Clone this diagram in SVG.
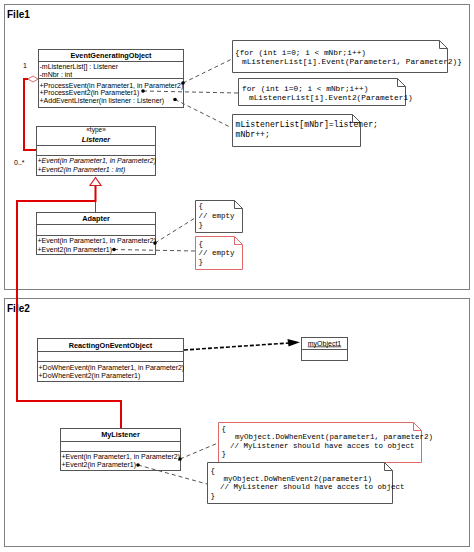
<svg xmlns="http://www.w3.org/2000/svg" width="474" height="552" viewBox="0 0 474 552">
<style>
.frame{fill:#fff;stroke:#808080;stroke-width:1}
.box{fill:#fff;stroke:#555;stroke-width:1}
.sep{stroke:#555;stroke-width:1;fill:none}
.note{fill:#fff;stroke:#555;stroke-width:1}
.rnote{fill:#fff;stroke:#e06a6a;stroke-width:1}
.t{font-family:"Liberation Sans",Arial,sans-serif;font-size:7px;fill:#000}
.i{font-style:italic}
.b{font-weight:bold;font-size:7.3px}
.c{text-anchor:middle}
.lbl{font-family:"Liberation Sans",Arial,sans-serif;font-size:10px;font-weight:bold;fill:#000}
.m{font-family:"Liberation Mono","Courier New",monospace;font-size:7.8px;fill:#000}
.m2{font-family:"Liberation Mono","Courier New",monospace;font-size:7.5px;fill:#000}
.dash{stroke:#555;stroke-width:1;stroke-dasharray:4,3;fill:none}
.red{stroke:#e00000;stroke-width:2;fill:none}
.dot{fill:#000}
</style>

<g id="frame-file1">
<rect class="frame" x="4.5" y="4.5" width="465" height="285"/>
<text class="lbl" x="7" y="18">File1</text>
</g>
<g id="frame-file2">
<rect class="frame" x="4.5" y="298.5" width="465" height="248"/>
<text class="lbl" x="7" y="311.5">File2</text>
</g>

<g id="EventGeneratingObject">
<rect class="box" x="38.5" y="49.5" width="145" height="58"/>
<line class="sep" x1="38.5" y1="61.5" x2="183.5" y2="61.5"/>
<line class="sep" x1="38.5" y1="78.5" x2="183.5" y2="78.5"/>
<text class="t b c" x="111" y="58">EventGeneratingObject</text>
<text class="t" x="39.5" y="68.5">-mListenerList[] : Listener</text>
<text class="t" x="39.5" y="76.5">-mNbr : int</text>
<text class="t" x="39.5" y="87.5">+ProcessEvent(in Parameter1, in Parameter2)</text>
<text class="t" x="39.5" y="95">+ProcessEvent2(in Parameter1)</text>
<text class="t" x="39.5" y="103">+AddEventListener(in listener : Listener)</text>
</g>

<g id="Listener">
<rect class="box" x="36.5" y="126.5" width="119" height="49"/>
<line class="sep" x1="36.5" y1="145.5" x2="155.5" y2="145.5"/>
<line class="sep" x1="36.5" y1="155.5" x2="155.5" y2="155.5"/>
<text class="t c" x="96" y="132" style="font-size:6.5px">«type»</text>
<text class="t b i c" x="96" y="142">Listener</text>
<text class="t i" x="37.5" y="163">+Event(in Parameter1, in Parameter2)</text>
<text class="t i" x="37.5" y="171.5">+Event2(in Parameter1 : int)</text>
</g>

<g id="Adapter">
<rect class="box" x="36.5" y="212.5" width="119" height="42"/>
<line class="sep" x1="36.5" y1="224.5" x2="155.5" y2="224.5"/>
<line class="sep" x1="36.5" y1="235.5" x2="155.5" y2="235.5"/>
<text class="t b c" x="96" y="221">Adapter</text>
<text class="t" x="37.5" y="243">+Event(in Parameter1, in Parameter2)</text>
<text class="t" x="37.5" y="251.5">+Event2(in Parameter1)</text>
</g>

<g id="note-event">
<path class="note" d="M232.5,40.5 H439.5 L447.5,48.5 V72.5 H232.5 Z"/>
<path class="sep" d="M439.5,40.5 V48.5 H447.5"/>
<text class="m" x="235" y="55">{for (int i=0; i &lt; mNbr;i++)</text>
<text class="m" x="242" y="63.5">mListenerList[i].Event(Parameter1, Parameter2)}</text>
</g>

<g id="note-event2">
<path class="note" d="M238.5,78.5 H397.5 L405.5,86.5 V105.5 H238.5 Z"/>
<path class="sep" d="M397.5,78.5 V86.5 H405.5"/>
<text class="m" x="242" y="91">for (int i=0; i &lt; mNbr;i++)</text>
<text class="m" x="249" y="99.5">mListenerList[i].Event2(Parameter1)</text>
</g>

<g id="note-add">
<path class="note" d="M232.5,114.5 H352.5 L360.5,122.5 V146.5 H232.5 Z"/>
<path class="sep" d="M352.5,114.5 V122.5 H360.5"/>
<text class="m" x="235.5" y="127" style="font-size:8.2px">mListenerList[mNbr]=listener;</text>
<text class="m" x="235.5" y="136.5" style="font-size:8.2px">mNbr++;</text>
</g>

<g id="note-adapter-event">
<path class="note" d="M195.5,200.5 H234.5 L242.5,208.5 V232.5 H195.5 Z"/>
<path class="sep" d="M234.5,200.5 V208.5 H242.5"/>
<text class="m2" x="198.5" y="208">{</text>
<text class="m2" x="198.5" y="218">// empty</text>
<text class="m2" x="198.5" y="226.5">}</text>
</g>

<g id="note-adapter-event2">
<path class="rnote" d="M195.5,236.5 H234.5 L242.5,244.5 V269.5 H195.5 Z"/>
<path class="sep" style="stroke:#e06a6a" d="M234.5,236.5 V244.5 H242.5"/>
<text class="m2" x="198.5" y="245.5">{</text>
<text class="m2" x="198.5" y="255">// empty</text>
<text class="m2" x="198.5" y="263.5">}</text>
</g>

<g id="ReactingOnEventObject">
<rect class="box" x="37.5" y="338.5" width="146" height="43"/>
<line class="sep" x1="37.5" y1="351.5" x2="183.5" y2="351.5"/>
<line class="sep" x1="37.5" y1="361.5" x2="183.5" y2="361.5"/>
<text class="t b c" x="110.5" y="347.5">ReactingOnEventObject</text>
<text class="t" x="38.5" y="369.5">+DoWhenEvent(in Parameter1, in Parameter2)</text>
<text class="t" x="38.5" y="377.5">+DoWhenEvent2(in Parameter1)</text>
</g>

<g id="myObject1">
<rect class="box" x="301.5" y="337.5" width="46" height="23"/>
<line class="sep" x1="301.5" y1="349.5" x2="347.5" y2="349.5"/>
<text class="t c" x="324.5" y="345.5" text-decoration="underline">myObject1</text>
</g>

<g id="MyListener">
<rect class="box" x="60.5" y="428.5" width="120" height="42"/>
<line class="sep" x1="60.5" y1="441.5" x2="180.5" y2="441.5"/>
<line class="sep" x1="60.5" y1="451.5" x2="180.5" y2="451.5"/>
<text class="t b c" x="120.5" y="437">MyListener</text>
<text class="t" x="61.5" y="458.5">+Event(in Parameter1, in Parameter2)</text>
<text class="t" x="61.5" y="466.5">+Event2(in Parameter1)</text>
</g>

<g id="note-mylistener-event">
<path class="rnote" d="M218.5,422.5 H413.5 L421.5,430.5 V462.5 H218.5 Z"/>
<path class="sep" style="stroke:#e06a6a" d="M413.5,422.5 V430.5 H421.5"/>
<text class="m2" x="221.5" y="430.5">{</text>
<text class="m2" x="235" y="439">myObject.DoWhenEvent(parameter1, parameter2)</text>
<text class="m2" x="230" y="447.5">// MyListener should have acces to object</text>
<text class="m2" x="221.5" y="455.5">}</text>
</g>

<g id="note-mylistener-event2">
<path class="note" d="M207.5,462.5 H384.5 L392.5,470.5 V503.5 H207.5 Z"/>
<path class="sep" d="M384.5,462.5 V470.5 H392.5"/>
<text class="m2" x="210.5" y="472.5">{</text>
<text class="m2" x="223.5" y="481">myObject.DoWhenEvent2(parameter1)</text>
<text class="m2" x="220" y="489">// MyListener should have acces to object</text>
<text class="m2" x="210.5" y="497.5">}</text>
</g>

<g id="connectors">
<line class="dash" x1="183" y1="83" x2="232" y2="59"/>
<circle class="dot" cx="183" cy="83" r="1.8"/>
<line class="dash" x1="143" y1="91" x2="238" y2="93"/>
<circle class="dot" cx="143" cy="91" r="1.8"/>
<line class="dash" x1="175" y1="99.5" x2="230" y2="127"/>
<circle class="dot" cx="175" cy="99.5" r="1.8"/>
<line class="dash" x1="155" y1="243" x2="195" y2="218"/>
<circle class="dot" cx="155" cy="243" r="1.8"/>
<line class="dash" x1="114" y1="249.5" x2="195" y2="251"/>
<circle class="dot" cx="114" cy="249.5" r="1.8"/>
<line class="dash" x1="180" y1="459" x2="218" y2="443"/>
<circle class="dot" cx="180" cy="459" r="1.8"/>
<line class="dash" x1="138" y1="465" x2="207" y2="484"/>
<circle class="dot" cx="138" cy="465" r="1.8"/>
<line x1="184" y1="350" x2="289" y2="343" stroke="#000" stroke-width="1.6" stroke-dasharray="4,2"/>
<polygon points="300,342.3 287.5,339 288.5,346.5" fill="#000"/>
<polyline class="red" points="28,79 24,79 24,150 36,150"/>
<polygon points="38,79 33,76 28,79 33,82" fill="#fff" stroke="#e06a6a" stroke-width="1"/>
<text class="t" x="23" y="68">1</text>
<text class="t" x="14" y="165">0..*</text>
<line class="sep" x1="95.5" y1="185" x2="95.5" y2="212"/>
<polyline class="red" points="121,428 121,401 17,401 17,201 95.5,201 95.5,185"/>
<polygon points="95.5,177.5 90,185.5 101,185.5" fill="#fff" stroke="#d02020" stroke-width="1.2"/>
</g>
</svg>
